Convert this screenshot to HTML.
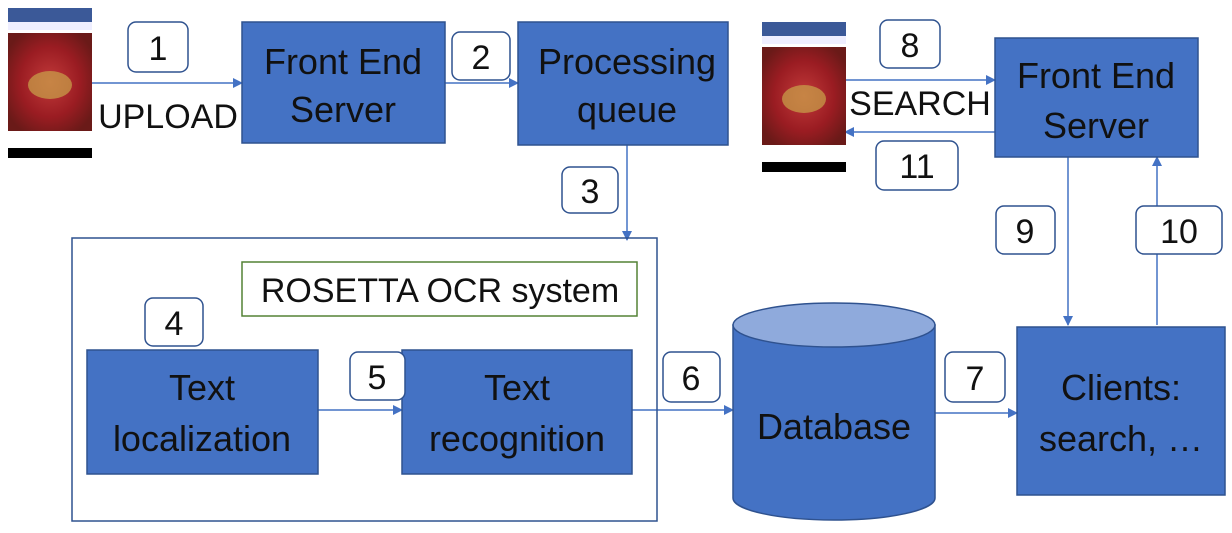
<!DOCTYPE html>
<html><head><meta charset="utf-8"><style>
html,body{margin:0;padding:0;background:#fff;}
svg{display:block;font-family:"Liberation Sans",sans-serif;}
</style></head><body>
<svg width="1232" height="533" viewBox="0 0 1232 533" xmlns="http://www.w3.org/2000/svg">
<defs>
<marker id="a" markerWidth="10" markerHeight="10" refX="9" refY="5" orient="auto" markerUnits="userSpaceOnUse"><path d="M0,0 L10,5 L0,10 z" fill="#4472c4"/></marker>
<radialGradient id="r" cx="50%" cy="50%" r="60%"><stop offset="0" stop-color="#c23a3a"/><stop offset="0.6" stop-color="#9a1c22"/><stop offset="1" stop-color="#6a1a18"/></radialGradient>
</defs>
<g stroke="#4472c4" stroke-width="1.5" fill="none" marker-end="url(#a)">
<line x1="92" y1="83" x2="242" y2="83"/>
<line x1="445" y1="83" x2="518" y2="83"/>
<line x1="627" y1="145" x2="627" y2="240"/>
<line x1="318" y1="410" x2="402" y2="410"/>
<line x1="632" y1="410" x2="733" y2="410"/>
<line x1="935" y1="413" x2="1017" y2="413"/>
<line x1="845" y1="80" x2="995" y2="80"/>
<line x1="995" y1="132" x2="845" y2="132"/>
<line x1="1068" y1="157" x2="1068" y2="325"/>
<line x1="1157" y1="325" x2="1157" y2="157"/>
</g>
<g>
<rect x="8" y="8" width="84" height="150" fill="#fff"/>
<rect x="8" y="8" width="84" height="14" fill="#3b5998"/>
<rect x="8" y="22" width="84" height="8" fill="#eef"/>
<rect x="8" y="33" width="84" height="98" fill="url(#r)"/>
<ellipse cx="50" cy="85" rx="22" ry="14" fill="#c9a44a" opacity="0.7"/>
<rect x="8" y="148" width="84" height="10" fill="#000"/>
<rect x="762" y="22" width="84" height="150" fill="#fff"/>
<rect x="762" y="22" width="84" height="14" fill="#3b5998"/>
<rect x="762" y="36" width="84" height="8" fill="#eef"/>
<rect x="762" y="47" width="84" height="98" fill="url(#r)"/>
<ellipse cx="804" cy="99" rx="22" ry="14" fill="#c9a44a" opacity="0.7"/>
<rect x="762" y="162" width="84" height="10" fill="#000"/>
</g>
<g fill="#4472c4" stroke="#2f528f" stroke-width="1.5">
<rect x="242" y="22" width="203" height="121"/>
<rect x="518" y="22" width="210" height="123"/>
<rect x="995" y="38" width="203" height="119"/>
<rect x="87" y="350" width="231" height="124"/>
<rect x="402" y="350" width="230" height="124"/>
<rect x="1017" y="327" width="208" height="168"/>
<path d="M733,325 L733,498 A101,22 0 0 0 935,498 L935,325 Z"/>
<ellipse cx="834" cy="325" rx="101" ry="22" fill="#8faadc"/>
</g>
<rect x="72" y="238" width="585" height="283" fill="none" stroke="#2f528f" stroke-width="1.5"/>
<rect x="242" y="262" width="395" height="54" fill="none" stroke="#548235" stroke-width="1.5"/>
<g fill="#fff" stroke="#2f528f" stroke-width="1.5">
<rect x="128" y="22" width="60" height="50" rx="8"/>
<rect x="452" y="32" width="58" height="48" rx="8"/>
<rect x="562" y="167" width="56" height="46" rx="8"/>
<rect x="145" y="298" width="58" height="48" rx="8"/>
<rect x="350" y="352" width="55" height="48" rx="8"/>
<rect x="663" y="352" width="57" height="50" rx="8"/>
<rect x="945" y="352" width="60" height="50" rx="8"/>
<rect x="880" y="20" width="60" height="48" rx="8"/>
<rect x="876" y="141" width="82" height="49" rx="8"/>
<rect x="996" y="206" width="59" height="48" rx="8"/>
<rect x="1136" y="206" width="86" height="48" rx="8"/>
</g>
<g font-size="34" fill="#111" text-anchor="middle">
<text x="158" y="60">1</text>
<text x="481" y="69">2</text>
<text x="590" y="203">3</text>
<text x="174" y="335">4</text>
<text x="377" y="389">5</text>
<text x="691" y="390">6</text>
<text x="975" y="390">7</text>
<text x="910" y="57">8</text>
<text x="917" y="178">11</text>
<text x="1025" y="243">9</text>
<text x="1179" y="243">10</text>
<text x="168" y="128">UPLOAD</text>
<text x="920" y="115">SEARCH</text>
<text x="440" y="302">ROSETTA OCR system</text>
<g font-size="36">
<text x="343" y="74">Front End</text>
<text x="343" y="122">Server</text>
<text x="627" y="74">Processing</text>
<text x="627" y="122">queue</text>
<text x="1096" y="88">Front End</text>
<text x="1096" y="138">Server</text>
<text x="202" y="400">Text</text>
<text x="202" y="451">localization</text>
<text x="517" y="400">Text</text>
<text x="517" y="451">recognition</text>
<text x="834" y="439">Database</text>
<text x="1121" y="400">Clients:</text>
<text x="1121" y="451">search, …</text>
</g>
</g>
</svg>
</body></html>
